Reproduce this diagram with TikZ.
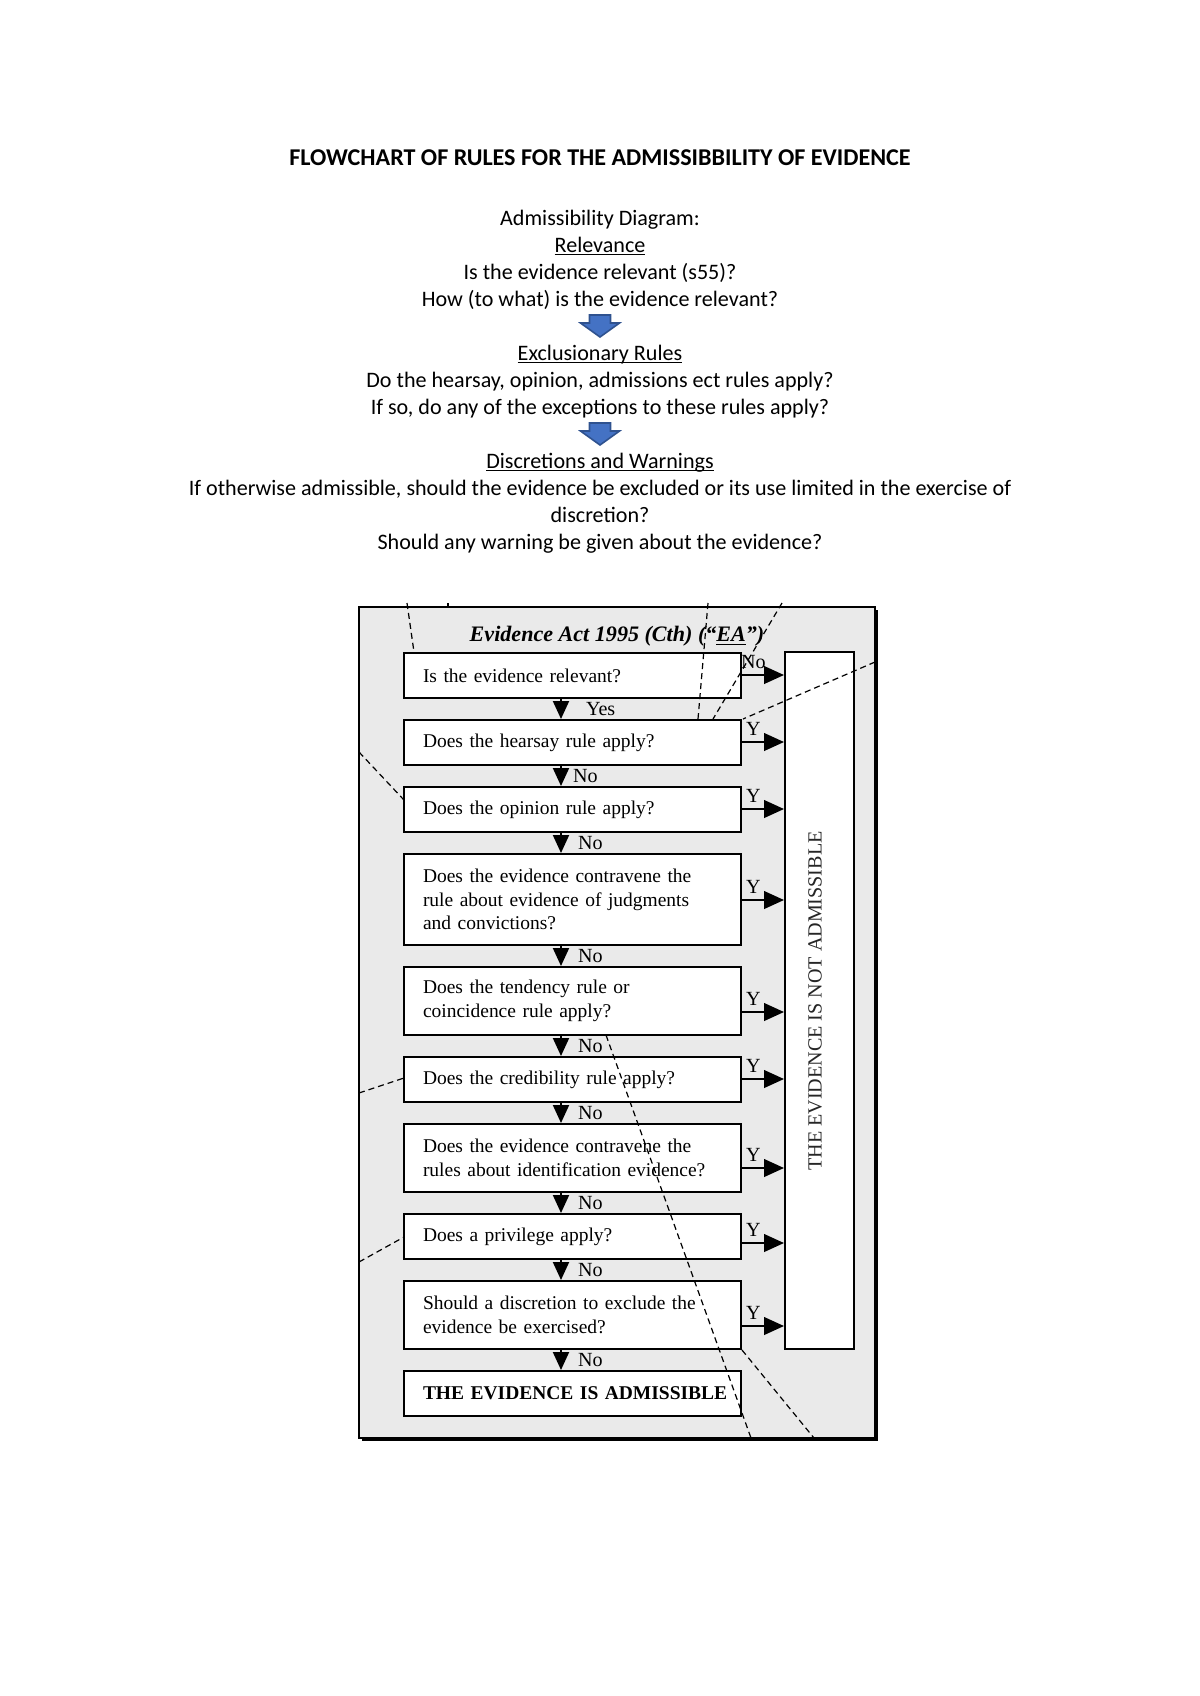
\documentclass[tikz,border=0pt]{standalone}
\usepackage{fontspec}
\setmainfont{Liberation Serif}
\newfontfamily\calib{Carlito}
\usepackage{graphicx}
\usetikzlibrary{arrows.meta,calc}
\definecolor{framegray}{RGB}{234,234,234}
\definecolor{arrowblue}{RGB}{68,114,196}
\definecolor{arrowedge}{RGB}{47,82,143}
\newbox\ulbox
\newcommand\ulx[1]{\setbox\ulbox=\hbox{#1}\rlap{\vrule height -1.0pt depth 1.6pt width \wd\ulbox}\box\ulbox}
\begin{document}
\begin{tikzpicture}[x=0.175mm,y=-0.175mm,
  topline/.style={font=\calib\fontsize{11}{13.4}\selectfont, inner sep=0pt, text height=7pt, text depth=0pt, anchor=center},
  toptitle/.style={font=\calib\bfseries\fontsize{12}{14.6}\selectfont, inner sep=0pt, text height=7.7pt, text depth=0pt, anchor=center},
  qbox/.style={draw, line width=1pt, fill=white, text width=52.325mm, inner xsep=3.325mm, inner ysep=0pt, align=left, font=\fontsize{9.7}{11.7}\selectfont},
  hone/.style={minimum height=7.875mm},
  htwo/.style={minimum height=11.9mm},
  hthree/.style={minimum height=15.925mm},
  darr/.style={line width=1pt, -{Triangle[length=3.15mm,width=2.8mm]}},
  rarr/.style={line width=1pt, -{Triangle[length=3.5mm,width=3.1mm]}},
  lab/.style={font=\fontsize{10}{12}\selectfont, inner sep=0pt, text height=6.6pt, text depth=0pt},
  ylab/.style={lab, pos=0.27, above=0.9mm},
  artdash/.style={line width=0.6pt, dash pattern=on 3pt off 2pt},
  bluearr/.style={fill=arrowblue, draw=arrowedge, line width=0.8pt}
]
\useasboundingbox (0,0) rectangle (1200,1696);

% ---------- top text ----------
\node[toptitle] (title) at (600,158) {FLOWCHART OF RULES FOR THE ADMISSIBBILITY OF EVIDENCE};
\node[topline] (t1) at (600,218) {Admissibility Diagram:};
\node[topline] (t2) at (600,245) {\ulx{Relevance}};
\node[topline] (t3) at (600,272) {Is the evidence relevant (s55)?};
\node[topline] (t4) at (600,299) {How (to what) is the evidence relevant?};
\node[topline] (t5) at (600,353) {\ulx{Exclusionary Rules}};
\node[topline] (t6) at (600,380) {Do the hearsay, opinion, admissions ect rules apply?};
\node[topline] (t7) at (600,407) {If so, do any of the exceptions to these rules apply?};
\node[topline] (t8) at (600,461) {\ulx{Discretions and Warnings}};
\node[topline] (t9) at (600,488) {If otherwise admissible, should the evidence be excluded or its use limited in the exercise of};
\node[topline] (t10) at (600,515) {discretion?};
\node[topline] (t11) at (600,542) {Should any warning be given about the evidence?};

\foreach \cy in {326,434}
  \draw[bluearr, shift={(600,\cy)}] (-10.5,-11) -- (10.5,-11) -- (10.5,-3) -- (19.5,-3) -- (0,11) -- (-19.5,-3) -- (-10.5,-3) -- cycle;

% ---------- frame ----------
\fill[black] (362,610) rectangle (878,1441);
\draw[line width=1pt, fill=framegray] (359,607) rectangle (875,1438);

\node[font=\bfseries\itshape\fontsize{11}{13}\selectfont, inner sep=0pt, text height=7.3pt, text depth=0pt] (eatitle) at (617,634) {Evidence Act 1995 (Cth) (“\underline{EA}”)};

% ---------- question boxes ----------
\node[qbox,hone]   (b1)  at (572.5,675.5) {Is the evidence relevant?};
\node[qbox,hone]   (b2)  at (572.5,742.5) {Does the hearsay rule apply?};
\node[qbox,hone]   (b3)  at (572.5,809.5) {Does the opinion rule apply?};
\node[qbox,hthree] (b4)  at (572.5,899.5) {\mbox{Does the evidence contravene the}\\\mbox{rule about evidence of judgments}\\\mbox{and convictions?}};
\node[qbox,htwo]   (b5)  at (572.5,1001)  {\mbox{Does the tendency rule or}\\\mbox{coincidence rule apply?}};
\node[qbox,hone]   (b6)  at (572.5,1079.5) {Does the credibility rule apply?};
\node[qbox,htwo]   (b7)  at (572.5,1158)  {\mbox{Does the evidence contravene the}\\\mbox{rules about identification evidence?}};
\node[qbox,hone]   (b8)  at (572.5,1236.5) {Does a privilege apply?};
\node[qbox,htwo]   (b9)  at (572.5,1315)  {\mbox{Should a discretion to exclude the}\\\mbox{evidence be exercised?}};
\node[qbox,hone,font=\bfseries\fontsize{9.7}{11.7}\selectfont] (b10) at (572.5,1393.5) {\mbox{THE EVIDENCE IS ADMISSIBLE}};

\node[draw, line width=1pt, fill=white, minimum width=12.075mm, minimum height=121.975mm, inner sep=0pt] (na) at (819.5,1000.5) {};
\node[rotate=90, inner sep=0pt, font=\fontsize{10}{12}\selectfont, text=black!85] (natext) at (815,1001) {THE EVIDENCE IS NOT ADMISSIBLE};

% ---------- down arrows ----------
\coordinate (ax) at (561,0);
\draw[darr] (b1.south -| ax) -- (b2.north -| ax) node[lab, midway, anchor=west, xshift=4.2mm] {Yes};
\draw[darr] (b2.south -| ax) -- (b3.north -| ax) node[lab, midway, anchor=west, xshift=1.925mm] {No};
\draw[darr] (b3.south -| ax) -- (b4.north -| ax) node[lab, midway, anchor=west, xshift=2.8mm] {No};
\draw[darr] (b4.south -| ax) -- (b5.north -| ax) node[lab, midway, anchor=west, xshift=2.8mm] {No};
\draw[darr] (b5.south -| ax) -- (b6.north -| ax) node[lab, midway, anchor=west, xshift=2.8mm] {No};
\draw[darr] (b6.south -| ax) -- (b7.north -| ax) node[lab, midway, anchor=west, xshift=2.8mm] {No};
\draw[darr] (b7.south -| ax) -- (b8.north -| ax) node[lab, midway, anchor=west, xshift=2.8mm] {No};
\draw[darr] (b8.south -| ax) -- (b9.north -| ax) node[lab, midway, anchor=west, xshift=2.8mm] {No};
\draw[darr] (b9.south -| ax) -- (b10.north -| ax) node[lab, midway, anchor=west, xshift=2.8mm] {No};

% ---------- right arrows ----------
\draw[rarr] (b1.east |- 0,675)  -- node[ylab] {No} (na.west |- 0,675);
\draw[rarr] (b2.east |- 0,742)  -- node[ylab] {Y} (na.west |- 0,742);
\draw[rarr] (b3.east |- 0,809)  -- node[ylab] {Y} (na.west |- 0,809);
\draw[rarr] (b4.east |- 0,900)  -- node[ylab] {Y} (na.west |- 0,900);
\draw[rarr] (b5.east |- 0,1012) -- node[ylab] {Y} (na.west |- 0,1012);
\draw[rarr] (b6.east |- 0,1079) -- node[ylab] {Y} (na.west |- 0,1079);
\draw[rarr] (b7.east |- 0,1168) -- node[ylab] {Y} (na.west |- 0,1168);
\draw[rarr] (b8.east |- 0,1243) -- node[ylab] {Y} (na.west |- 0,1243);
\draw[rarr] (b9.east |- 0,1326) -- node[ylab] {Y} (na.west |- 0,1326);

% ---------- dashed scan artefact lines ----------
\draw[artdash] (407,603) -- (414,652);
\draw[line width=0.6pt] (448,603) -- (448,607);
\draw[artdash] (708,603) -- (698,719);
\draw[artdash] (782,603) -- (713,719);
\draw[artdash] (875,662) -- (743,719);
\draw[artdash] (359,752) -- (404,800);
\draw[artdash] (606,1035) -- (751,1438);
\draw[artdash] (742,1350) -- (814,1438);
\draw[artdash] (359,1093) -- (404,1078);
\draw[artdash] (359,1262) -- (404,1237);
\end{tikzpicture}
\end{document}
